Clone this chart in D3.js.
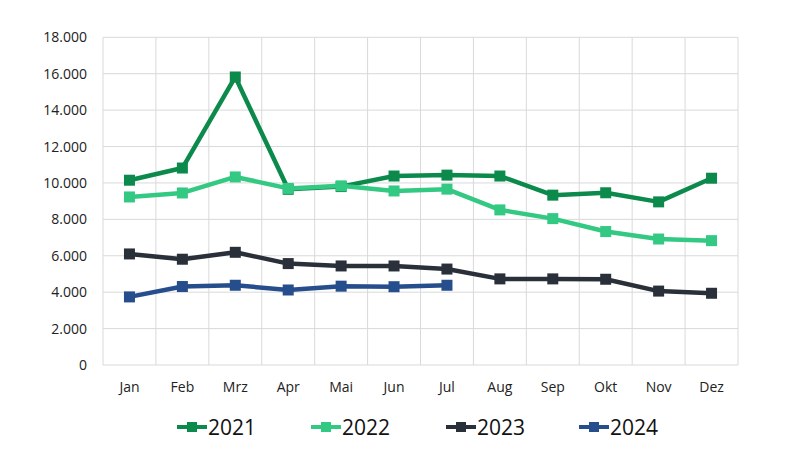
<!DOCTYPE html>
<html><head><meta charset="utf-8">
<script src="https://cdn.jsdelivr.net/npm/d3@7"></script>
<style>body{margin:0;background:#fff;}svg{display:block;font-family:"Open Sans","Noto Sans",sans-serif;}</style>
</head><body><svg id="c" width="800" height="450"></svg>
<script>
const months = ["Jan","Feb","Mrz","Apr","Mai","Jun","Jul","Aug","Sep","Okt","Nov","Dez"];
const yTicks = [0,2000,4000,6000,8000,10000,12000,14000,16000,18000];
const v2021 = [10150,10820,15820,9650,9800,10380,10430,10380,9330,9460,8960,10260];
const v2022 = [9230,9450,10330,9700,9840,9560,9660,8520,8040,7330,6920,6830];
const v2023 = [6100,5810,6190,5570,5440,5440,5270,4730,4730,4710,4060,3940];
const v2024 = [3740,4310,4380,4120,4330,4300,4380];
const seriesNames = ["2021","2022","2023","2024"];
const colors = ["#0c8a4c","#33c983","#2a3039","#264d8c"];
const seriesVals = [v2021,v2022,v2023,v2024];

const svg = d3.select("#c");
const L=103, R=738, T=37.3, B=365;
const x = d3.scaleBand().domain(months).range([L,R]);
const y = d3.scaleLinear().domain([0,18000]).range([B,T]);
const fmt = d3.formatLocale({decimal:",",thousands:".",grouping:[3],currency:["","€"]}).format(",d");

const g = svg.append("g");
g.selectAll("line.h").data(yTicks).join("line")
 .attr("x1",L).attr("x2",R).attr("y1",d=>y(d)).attr("y2",d=>y(d))
 .attr("stroke","#d9d9d9").attr("stroke-width",1);
const bounds = months.map(m=>x(m)).concat([R]);
g.selectAll("line.v").data(bounds).join("line")
 .attr("x1",d=>d).attr("x2",d=>d).attr("y1",T).attr("y2",B)
 .attr("stroke","#d9d9d9").attr("stroke-width",1);

const ya = svg.append("g").attr("transform",`translate(${L},0)`)
 .call(d3.axisLeft(y).tickValues(yTicks).tickFormat(fmt).tickSize(0).tickPadding(16));
ya.select(".domain").remove();
ya.selectAll("text").attr("font-size",14).attr("fill","#222").attr("font-family","'Open Sans','Noto Sans',sans-serif");

const xa = svg.append("g").attr("transform",`translate(0,${B})`)
 .call(d3.axisBottom(x).tickSize(0).tickPadding(17));
xa.select(".domain").remove();
xa.selectAll("text").attr("font-size",14).attr("fill","#222").attr("font-family","'Open Sans','Noto Sans',sans-serif");

const line = d3.line().x((d,i)=>x(months[i])+x.bandwidth()/2).y(d=>y(d));
seriesVals.forEach((vals,k)=>{
  svg.append("path").datum(vals).attr("d",line).attr("fill","none")
    .attr("stroke",colors[k]).attr("stroke-width",4.5).attr("stroke-linejoin","round");
  svg.append("g").selectAll("rect").data(vals).join("rect")
    .attr("x",(d,i)=>x(months[i])+x.bandwidth()/2-5.5)
    .attr("y",d=>y(d)-5.5).attr("width",11).attr("height",11)
    .attr("fill",colors[k]);
});

const lx = [177,311,446,579];
const lg = svg.append("g");
seriesNames.forEach((n,k)=>{
  const gg = lg.append("g").attr("transform",`translate(${lx[k]},427)`);
  gg.append("line").attr("x1",0).attr("x2",30).attr("y1",0).attr("y2",0)
    .attr("stroke",colors[k]).attr("stroke-width",4);
  gg.append("rect").attr("x",10).attr("y",-5).attr("width",10).attr("height",10).attr("fill",colors[k]);
  gg.append("text").attr("x",31).attr("y",8).attr("font-size",21).attr("fill","#111").text(n);
});
</script></body></html>
